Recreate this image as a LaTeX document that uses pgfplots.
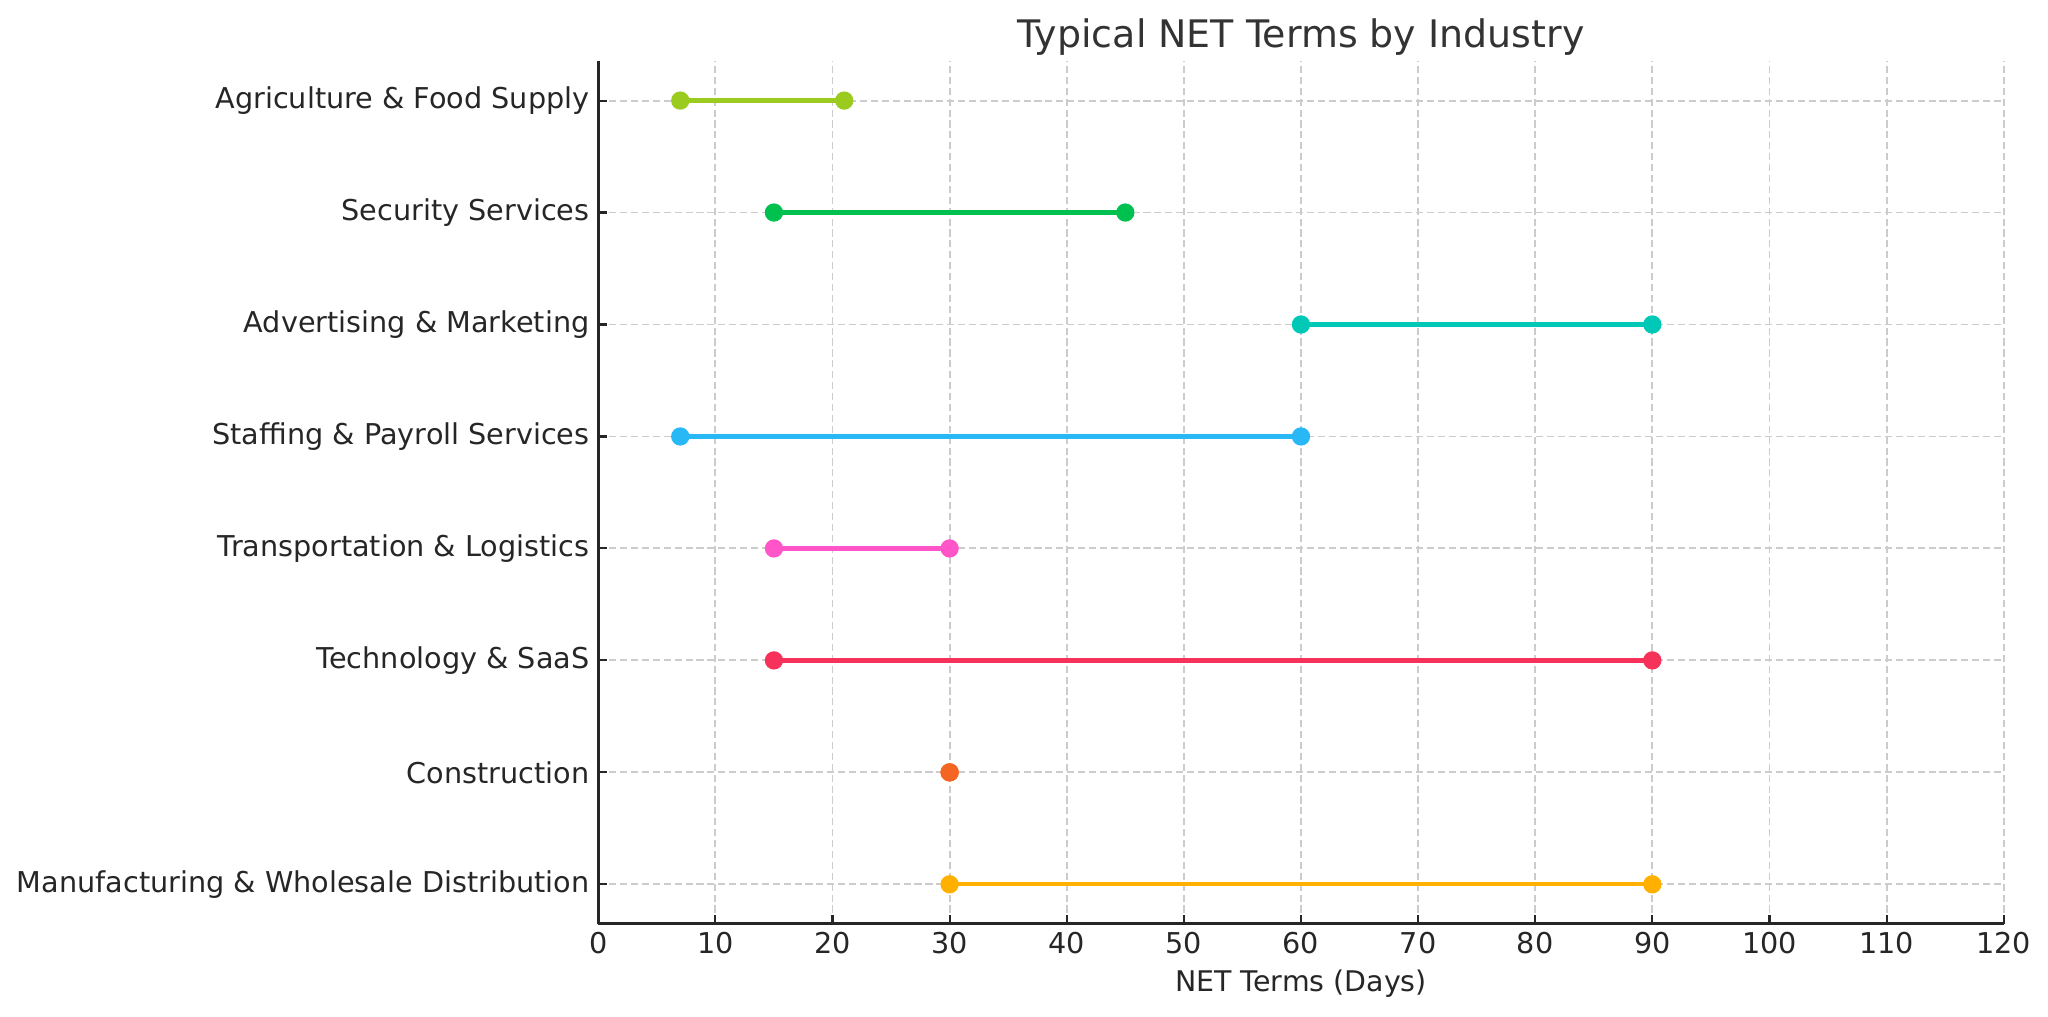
\documentclass[border=0pt]{standalone}
\usepackage{fontspec}
\setmainfont{DejaVu Sans}
\usepackage{pgfplots}
\pgfplotsset{compat=1.18}
\definecolor{cAgri}{HTML}{9ACB1E}
\definecolor{cSec}{HTML}{00C050}
\definecolor{cAdv}{HTML}{00C8B6}
\definecolor{cStaff}{HTML}{29B8F6}
\definecolor{cTrans}{HTML}{FF55C8}
\definecolor{cTech}{HTML}{F7325A}
\definecolor{cCons}{HTML}{F46524}
\definecolor{cManu}{HTML}{FFB000}
\definecolor{gridc}{HTML}{CCCCCC}
\definecolor{txt}{HTML}{262626}
\definecolor{ttl}{HTML}{333333}
\begin{document}
\begin{tikzpicture}
\begin{axis}[
  at={(0,0)}, anchor=south west,
  scale only axis,
  width=592.9pt, height=363.7pt,
  xmin=0, xmax=120, ymin=-0.35, ymax=7.35,
  axis lines*=left,
  axis line style={line width=1.1pt, color=txt},
  xtick={0,10,...,120},
  ytick={0,1,2,3,4,5,6,7},
  yticklabels={Manufacturing \& Wholesale Distribution, Construction, Technology \& SaaS, Transportation \& Logistics, Staffing \& Payroll Services, Advertising \& Marketing, Security Services, Agriculture \& Food Supply},
  tick align=inside,
  major tick length=3.5pt,
  tick style={line width=0.9pt, color=txt},
  minor tick num=0,
  grid=major,
  grid style={dash pattern=on 3pt off 1.6pt, line width=0.8pt, color=gridc},
  tick label style={font=\fontsize{12.1}{14}\selectfont, color=txt},
  /pgf/number format/assume math mode=true,
  xticklabel style={anchor=north, inner sep=0pt, yshift=-3.5pt},
  yticklabel style={anchor=east, inner sep=0pt, xshift=-3.5pt},
  xlabel={NET Terms (Days)},
  xlabel style={font=\fontsize{12}{14}\selectfont, color=txt, at={(axis description cs:0.5,0)}, anchor=north, inner sep=0pt, yshift=-19.3pt},
  title={Typical NET Terms by Industry},
  title style={font=\fontsize{16}{19}\selectfont, color=ttl, at={(axis description cs:0.5,1)}, anchor=base, inner sep=0pt, yshift=0pt},
  every axis plot/.append style={line width=1.8pt, mark=*, mark size=2.95pt, mark options={solid}},
]
\addplot[color=cManu, mark options={fill=cManu, draw=cManu}] coordinates {(30,0) (90,0)};
\addplot[color=cCons, mark options={fill=cCons, draw=cCons}] coordinates {(30,1) (30,1)};
\addplot[color=cTech, mark options={fill=cTech, draw=cTech}] coordinates {(15,2) (90,2)};
\addplot[color=cTrans, mark options={fill=cTrans, draw=cTrans}] coordinates {(15,3) (30,3)};
\addplot[color=cStaff, mark options={fill=cStaff, draw=cStaff}] coordinates {(7,4) (60,4)};
\addplot[color=cAdv, mark options={fill=cAdv, draw=cAdv}] coordinates {(60,5) (90,5)};
\addplot[color=cSec, mark options={fill=cSec, draw=cSec}] coordinates {(15,6) (45,6)};
\addplot[color=cAgri, mark options={fill=cAgri, draw=cAgri}] coordinates {(7,7) (21,7)};
\end{axis}
\path[use as bounding box] (-252.4pt,-39.1pt) rectangle (611.6pt,389.6pt);
\end{tikzpicture}
\end{document}
